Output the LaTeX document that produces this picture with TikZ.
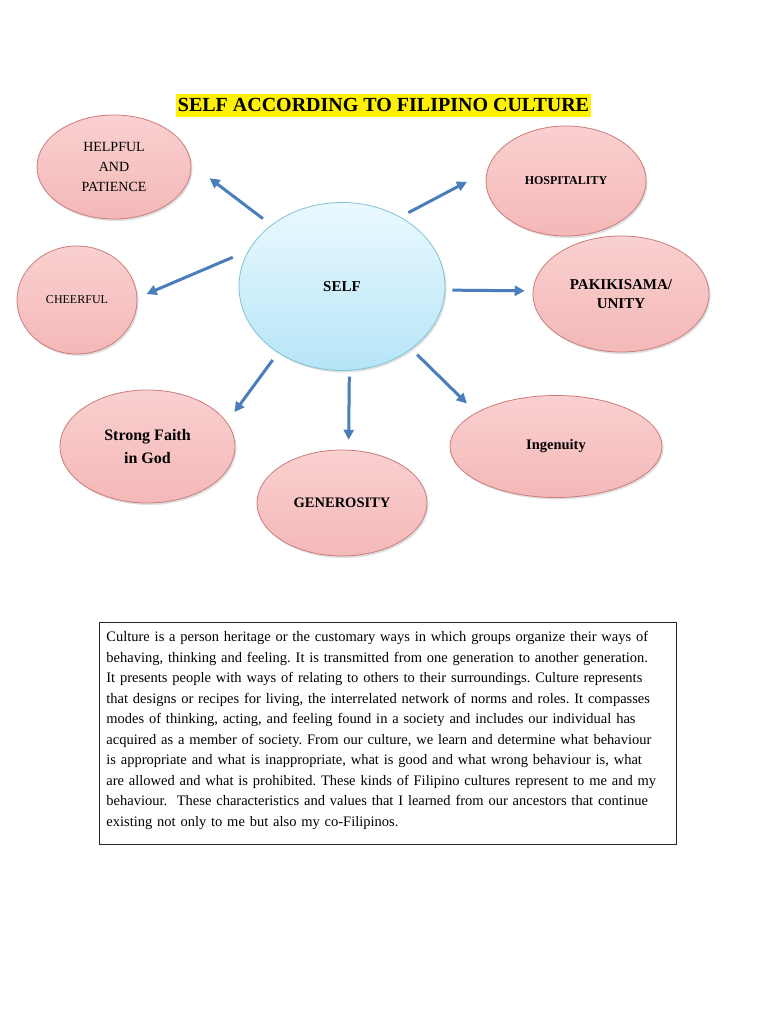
\documentclass[tikz,border=0pt]{standalone}
\usepackage{fontspec}
\setmainfont{Liberation Serif}
\usepackage{xcolor}
\usetikzlibrary{arrows.meta,shapes.geometric,shadows}
\definecolor{rosehaut}{HTML}{FAD0D0}
\definecolor{rosemilieu}{HTML}{FFE1E1}
\definecolor{rosebas}{HTML}{F4B8B8}
\definecolor{rosebord}{HTML}{CC7C7A}
\definecolor{cielhaut}{HTML}{EAF9FF}
\definecolor{cielbas}{HTML}{B6E5F7}
\definecolor{cielbord}{HTML}{7EC3D6}
\definecolor{fleuve}{HTML}{4A7EBB}
\newcommand{\taille}[2]{\fontsize{#1}{#2}\selectfont}
\def\largeur{768}
\def\hauteur{1024}
\frenchspacing

\begin{document}
\begin{tikzpicture}[x=1pt, y=1pt,
	bulle/.style={ellipse, draw=rosebord, line width=0.8pt, top color=rosehaut, middle color=rosemilieu, bottom color=rosebas, inner sep=0pt, align=center, drop shadow={shadow xshift=1.5pt, shadow yshift=-2pt, opacity=0.25}},
	fleche/.style={-{Triangle[length=10pt,width=10pt]}, color=fleuve, line width=3pt}]
	\useasboundingbox[fill=white] (0,0) rectangle (\largeur,\hauteur);
	%\draw[step=50, line width=0.2pt, black!20!white] (0,0) grid (\largeur,\hauteur);
	\node[anchor=base, fill=yellow, inner xsep=1.5pt, inner ysep=1pt, text height=16.7pt, text depth=4.3pt, font=\taille{20}{24}\bfseries] (titre) at (383.5,912.3) {SELF ACCORDING TO FILIPINO CULTURE};

	\node[bulle, draw=cielbord, top color=cielhaut, middle color=cielhaut!50!cielbas, bottom color=cielbas, minimum width=206pt, minimum height=168pt, font=\taille{15}{18}\bfseries] (self) at (342,737.5) {SELF};
	\node[bulle, minimum width=154pt, minimum height=104pt, font=\taille{14}{20}] (helpful) at (114,857) {HELPFUL\\AND\\PATIENCE};
	\node[bulle, minimum width=120pt, minimum height=108pt, font=\taille{12}{14}] (cheerful) at (77,724) {CHEERFUL};
	\node[bulle, minimum width=160pt, minimum height=110pt, font=\taille{12}{14}\bfseries] (hospitality) at (566,843) {HOSPITALITY};
	\node[bulle, minimum width=176pt, minimum height=116pt, font=\taille{15}{19}\bfseries] (unity) at (621,730) {PAKIKISAMA/\\UNITY};
	\node[bulle, minimum width=175pt, minimum height=113pt, font=\taille{16}{23}\bfseries] (faith) at (147.5,577.5) {Strong Faith\\in God};
	\node[bulle, minimum width=170pt, minimum height=106pt, font=\taille{14.5}{17}\bfseries] (generosity) at (342,521) {GENEROSITY};
	\node[bulle, minimum width=212pt, minimum height=102pt, font=\taille{14.5}{17}\bfseries] (ingenuity) at (556,577.5) {Ingenuity};

	\draw[fleche, shorten <=10.5pt, shorten >=23pt] (self.139.4) -- (helpful.2.3);
	\draw[fleche, shorten <=17pt, shorten >=10pt] (self.159.7) -- (cheerful.2.3);
	\draw[fleche, shorten <=9pt, shorten >=22.5pt] (self.50.8) -- (hospitality.173.2);
	\draw[fleche, shorten <=7pt, shorten >=8pt] (self.-2.8) -- (unity.178.7);
	\draw[fleche, shorten <=9pt, shorten >=12.5pt] (self.-134) -- (faith.17.1);
	\draw[fleche, shorten <=6pt, shorten >=10pt] (self.-85.9) -- (generosity.83.5);
	\draw[fleche, shorten <=8pt, shorten >=13pt] (self.-42.4) -- (ingenuity.157.8);

	\node[draw=black!85, line width=0.8pt, anchor=north west, text width=563pt, inner xsep=7pt, inner ysep=0pt, align=left, font=\taille{14.5}{20.5}] (texte) at (99,402) {\rule{0pt}{19.5pt}Culture is a person heritage or the customary ways in which groups organize their ways of\\
	behaving, thinking and feeling. It is transmitted from one generation to another generation.\\
	It presents people with ways of relating to others to their surroundings. Culture represents\\
	that designs or recipes for living, the interrelated network of norms and roles. It compasses\\
	modes of thinking, acting, and feeling found in a society and includes our individual has\\
	acquired as a member of society. From our culture, we learn and determine what behaviour\\
	is appropriate and what is inappropriate, what is good and what wrong behaviour is, what\\
	are allowed and what is prohibited. These kinds of Filipino cultures represent to me and my\\
	behaviour.\ \ These characteristics and values that I learned from our ancestors that continue\\
	existing not only to me but also my co-Filipinos.\rule[-18pt]{0pt}{18pt}};
\end{tikzpicture}
\end{document}
